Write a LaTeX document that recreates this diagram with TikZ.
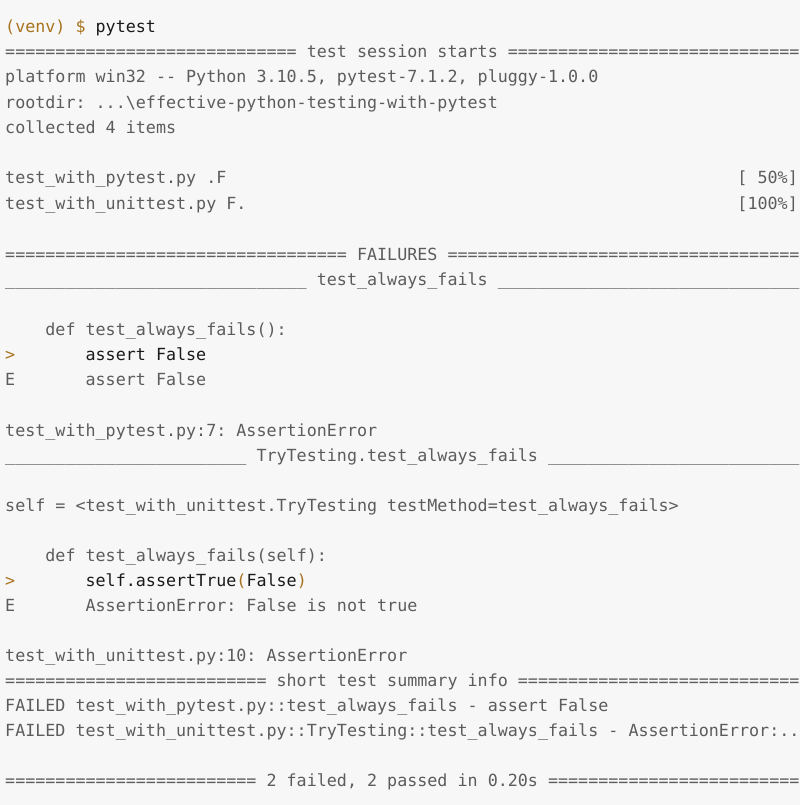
\documentclass[tikz,border=0pt]{standalone}
\usepackage{fontspec}
\setmonofont{DejaVu Sans Mono}
\definecolor{bgc}{HTML}{F7F7F7}
\definecolor{outc}{HTML}{5C5C5C}
\definecolor{codec}{HTML}{1A1A1A}
\definecolor{orc}{HTML}{A8731F}
\newcommand\rp[2]{\foreach\ri in {1,...,#1}{#2}}
\begin{document}
\begin{tikzpicture}[x=1pt,y=-1pt,
  ln/.style={anchor=base west,inner sep=0pt,text=outc,font=\fontsize{16.7}{20}\ttfamily},
  rt/.style={anchor=base east,inner sep=0pt,text=outc,font=\fontsize{16.7}{20}\ttfamily}]
\fill[bgc] (0,0) rectangle (800,805);
\useasboundingbox (0,0) rectangle (800,805);
\node[ln] (l1) at (5,33) {\textcolor{orc}{(venv) \$} \textcolor{codec}{pytest}};
\node[ln] (l2) at (5,58) {\rp{29}{=}\ test session starts \rp{29}{=}};
\node[ln] (l3) at (5,83) {platform win32 -- Python 3.10.5, pytest-7.1.2, pluggy-1.0.0};
\node[ln] (l4) at (5,109) {rootdir: ...\textbackslash effective-python-testing-with-pytest};
\node[ln] (l5) at (5,134) {collected 4 items};
\node[ln] (l7) at (5,184) {test\_with\_pytest.py .F};
\node[rt] (r7) at (798,184) {[ 50\%]};
\node[ln] (l8) at (5,209) {test\_with\_unittest.py F.};
\node[rt] (r8) at (798,209) {[100\%]};
\node[ln] (l10) at (5,260) {\rp{34}{=}\ FAILURES \rp{35}{=}};
\node[ln] (l11) at (5,285) {\rp{30}{\_}\ test\_always\_fails \rp{30}{\_}};
\node[ln] (l13) at (5,335) {\ \ \ \ def test\_always\_fails():};
\node[ln] (l14) at (5,360) {\textcolor{orc}{>}\ \ \ \ \ \ \ \textcolor{codec}{assert False}};
\node[ln] (l15) at (5,385) {E\ \ \ \ \ \ \ assert False};
\node[ln] (l17) at (5,436) {test\_with\_pytest.py:7: AssertionError};
\node[ln] (l18) at (5,461) {\rp{24}{\_}\ TryTesting.test\_always\_fails \rp{25}{\_}};
\node[ln] (l20) at (5,511) {self = <test\_with\_unittest.TryTesting testMethod=test\_always\_fails>};
\node[ln] (l22) at (5,561) {\ \ \ \ def test\_always\_fails(self):};
\node[ln] (l23) at (5,586) {\textcolor{orc}{>}\ \ \ \ \ \ \ \textcolor{codec}{self.assertTrue}\textcolor{orc}{(}\textcolor{codec}{False}\textcolor{orc}{)}};
\node[ln] (l24) at (5,611) {E\ \ \ \ \ \ \ AssertionError: False is not true};
\node[ln] (l26) at (5,661) {test\_with\_unittest.py:10: AssertionError};
\node[ln] (l27) at (5,686) {\rp{26}{=}\ short test summary info \rp{28}{=}};
\node[ln] (l28) at (5,711) {FAILED test\_with\_pytest.py::test\_always\_fails - assert False};
\node[ln] (l29) at (5,736) {FAILED test\_with\_unittest.py::TryTesting::test\_always\_fails - AssertionError:..};
\node[ln] (l31) at (5,786) {\rp{25}{=}\ 2 failed, 2 passed in 0.20s \rp{25}{=}};
\end{tikzpicture}
\end{document}
